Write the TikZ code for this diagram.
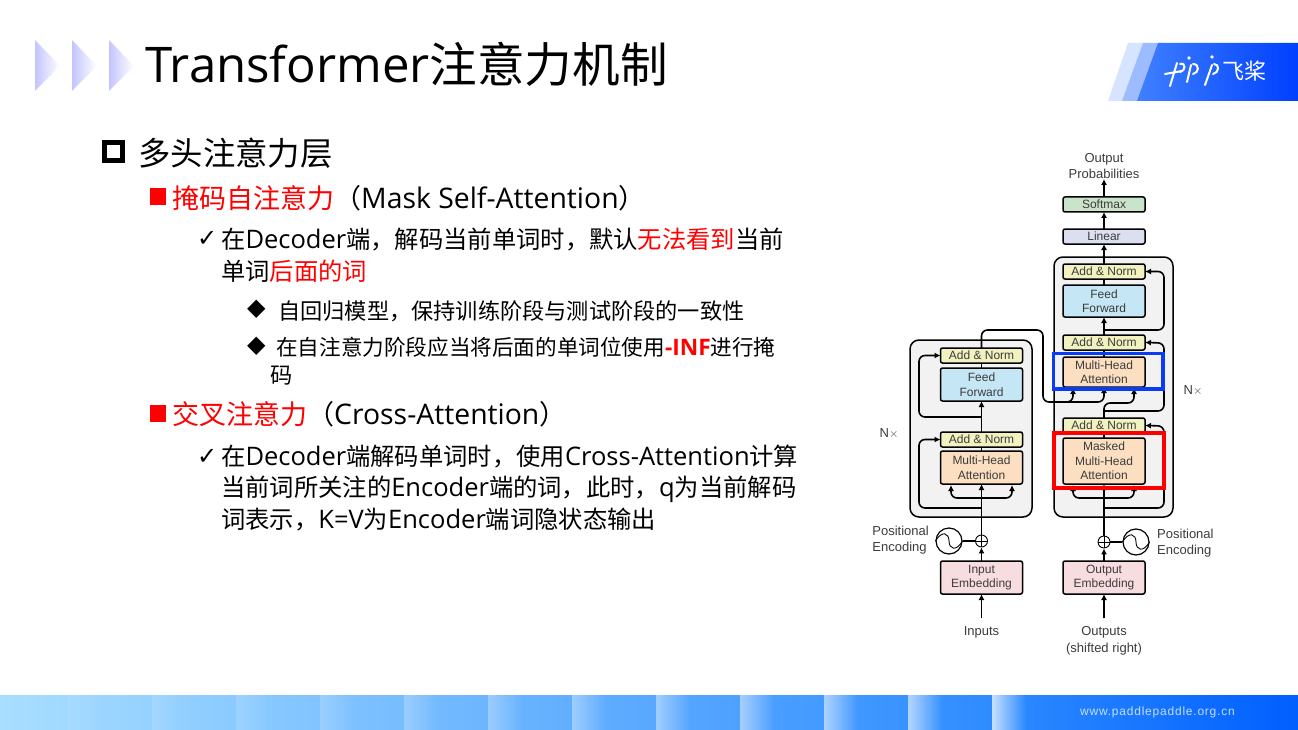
\documentclass[tikz,border=0pt]{standalone}
\usepackage{fontspec}
\usepackage{xcolor}
\setmainfont{Noto Sans CJK SC}
\newfontfamily\latfont[Scale=1.05]{Open Sans}
\newfontfamily\labelfont{Liberation Sans}
\newfontfamily\symbolfont{DejaVu Sans}
\newcommand{\lat}[1]{{\latfont #1}}
\usetikzlibrary{arrows.meta, positioning, fadings}

\definecolor{blockgray}{HTML}{F2F2F2}
\definecolor{softgreen}{HTML}{C9E4CA}
\definecolor{linearblue}{HTML}{DCDFF0}
\definecolor{normyellow}{HTML}{F1F2C0}
\definecolor{forwardblue}{HTML}{C4E6F5}
\definecolor{attnorange}{HTML}{FBDFC0}
\definecolor{embedpink}{HTML}{F8DDE0}
\definecolor{inkgray}{HTML}{3C3C3C}
\definecolor{markred}{HTML}{FF0000}
\definecolor{frameblue}{HTML}{0A3CF5}
\definecolor{arrowlilac}{HTML}{C4C4FF}
\definecolor{logopale}{HTML}{D6E4FF}
\definecolor{logomid}{HTML}{9DBCFF}
\definecolor{logostart}{HTML}{3F80FF}
\definecolor{logoend}{HTML}{0040FF}
\definecolor{footpale}{HTML}{A8DEFF}
\definecolor{footmid}{HTML}{2F8CFF}
\definecolor{footend}{HTML}{005FFF}

\tikzset{
    txt/.style={anchor=base west, inner sep=0pt},
    lone/.style={txt, font=\fontsize{32.4}{38}\selectfont},
    ltwo/.style={txt, font=\fontsize{27}{32}\selectfont},
    lthree/.style={txt, font=\fontsize{24.3}{30}\selectfont},
    lfour/.style={txt, font=\fontsize{22.2}{28}\selectfont},
    tag/.style={inner sep=0pt, align=center, text=inkgray, font=\labelfont\fontsize{13}{16.5}\selectfont},
    layer/.style={draw=black, line width=1.5pt, outer sep=0pt, rounded corners=2pt, minimum width=82pt, inner sep=0pt,
        align=center, text=inkgray, font=\labelfont\fontsize{12}{14.5}\selectfont},
    block/.style={draw=black, line width=1.5pt, rounded corners=9pt, fill=blockgray},
    wire/.style={line width=1.6pt, rounded corners=6pt},
    arrow/.style={wire, -{Latex[length=6pt,width=6pt]}},
    addcircle/.style={draw=black, circle, line width=.9pt, minimum size=12pt, inner sep=0pt, fill=white},
    sinecircle/.style={draw=black, circle, line width=1.2pt, minimum size=26pt, inner sep=0pt, fill=white},
}

\begin{document}
\begin{tikzpicture}[x=1pt,y=-1pt]
    \useasboundingbox (0,0) rectangle (1298,730);
    \fill[white] (0,0) rectangle (1298,730);

    % title
    \foreach \tx in {35,72,109}
        \shade[left color=arrowlilac, right color=white] (\tx,40) -- (\tx+25,66) -- (\tx,91) -- cycle;
    \node (title) [txt, font=\fontsize{47.6}{56}\selectfont] at (145,83) {{\latfont\fontsize{46.8}{56}\selectfont Transformer}注意力机制};

    % logo
    \fill[logopale] (1128,43) -- (1150,43) -- (1130,101) -- (1108,101) -- cycle;
    \fill[logomid] (1143,43) -- (1165,43) -- (1145,101) -- (1122,101) -- cycle;
    \shade[left color=logostart, right color=logoend] (1158,43) -- (1298,43) -- (1298,101) -- (1137,101) -- cycle;
    \draw[white, line width=2pt, line cap=round] (1165,74) -- (1182,71) (1170,86) -- (1177,63);
    \draw[white, line width=2pt, line cap=round] (1180,64) .. controls (1186,62) and (1186,71) .. (1180,72);
    \draw[white, line width=2pt, line cap=round] (1187,82) -- (1191,65) (1193,64) .. controls (1200,64) and (1199,73) .. (1193,74);
    \draw[white, line width=2pt, line cap=round] (1205,85) -- (1212,65) (1214,64) .. controls (1220,64) and (1219,73) .. (1213,74);
    \fill[white] (1189,58) circle (1.8) (1212,57) circle (1.8);
    \node (logo) [txt, text=white, font=\fontsize{22}{26}\selectfont] at (1222,80) {飞桨};

    % footer
    \shade[left color=footpale, right color=footmid] (0,695) rectangle (992,730);
    \shade[left color=footmid, right color=footend] (992,695) rectangle (1298,730);
    \foreach \fx/\fo in {68/.08,152/.12,236/.16,320/.2,404/.26,488/.32,572/.38,656/.44,740/.5,824/.56,908/.62,992/.72}
        \fill[white, fill opacity=\fo, path fading=east] (\fx,695) rectangle (\fx+34,730);
    \node (site) [txt, text=white, opacity=.75, font=\labelfont\fontsize{12}{14}\selectfont] at (1080,715) {\addfontfeature{LetterSpace=6.5}www.paddlepaddle.org.cn};

    % text
    \draw[line width=5pt] (104.5,143) rectangle (122.5,160.5);
    \node (one) [lone] at (138,166) {多头注意力层};
    \fill[markred] (150,188) rectangle (166,205);
    \node (two) [ltwo] at (172,209) {\textcolor{markred}{掩码自注意力}（\lat{Mask Self-Attention}）};
    \node (checka) [lthree] at (197,247) {\symbolfont\fontsize{24}{28}\selectfont ✓};
    \node (three) [lthree] at (221,248) {在\lat{Decoder}端，解码当前单词时，默认\textcolor{markred}{无法看到}当前};
    \node (threeb) [lthree] at (221,280) {单词\textcolor{markred}{后面的词}};
    \node (diaa) [lfour] at (247,315) {\symbolfont\fontsize{24}{28}\selectfont ◆};
    \node (four) [lfour] at (278,319) {自回归模型，保持训练阶段与测试阶段的一致性};
    \node (diab) [lfour] at (247,352) {\symbolfont\fontsize{24}{28}\selectfont ◆};
    \node (fourb) [lfour, font=\fontsize{21.6}{28}\selectfont] at (276,355) {在自注意力阶段应当将后面的单词位使用\textcolor{markred}{\bfseries\lat{-INF}}进行掩};
    \node (fourc) [lfour] at (270,383) {码};
    \fill[markred] (150,405) rectangle (166,422);
    \node (cross) [ltwo] at (172,424) {\textcolor{markred}{交叉注意力}（\lat{Cross-Attention}）};
    \node (checkb) [lthree] at (197,464) {\symbolfont\fontsize{24}{28}\selectfont ✓};
    \node (crossa) [lthree] at (221,465) {在\lat{Decoder}端解码单词时，使用\lat{Cross-Attention}计算};
    \node (crossb) [lthree] at (221,496) {当前词所关注的\lat{Encoder}端的词，此时，\lat{q}为当前解码};
    \node (crossc) [lthree] at (221,528) {词表示，\lat{K=V}为\lat{Encoder}端词隐状态输出};

    % blocks
    \draw[block] (910,340) rectangle (1032,517);
    \draw[block] (1054,257) rectangle (1173,517);

    % encoder
    \node (inemb) [layer, fill=embedpink, minimum height=33pt] at (981.5,577.5) {Input\\Embedding};
    \node (lmha) [layer, fill=attnorange, minimum height=33pt, above=77pt of inemb] {Multi-Head\\Attention};
    \node (lnorm) [layer, fill=normyellow, minimum height=15pt, above=4pt of lmha] {Add \& Norm};
    \node (lff) [layer, fill=forwardblue, minimum height=33pt, above=31pt of lnorm] {Feed\\Forward};
    \node (lnormb) [layer, fill=normyellow, minimum height=15pt, above=5pt of lff] {Add \& Norm};
    \node (inputs) [tag, below=32pt of inemb] {Inputs};
    \node (ladd) [addcircle] at (981.5,541) {};
    \node (lsine) [sinecircle] at (949,541) {};
    \node (lpos) [tag, anchor=east, align=left] at (929,540) {Positional\\Encoding};
    \node (lcount) [tag] at (889,434) {N$\times$};

    % decoder
    \node (outemb) [layer, fill=embedpink, minimum height=33pt] at (1104,577.5) {Output\\Embedding};
    \node (rmask) [layer, fill=attnorange, minimum height=46pt] at (1104,461) {Masked\\Multi-Head\\Attention};
    \node (rnormc) [layer, fill=normyellow, minimum height=15pt, above=5pt of rmask] {Add \& Norm};
    \node (rmha) [layer, fill=attnorange, minimum height=30pt, above=31pt of rnormc] {Multi-Head\\Attention};
    \node (rnormb) [layer, fill=normyellow, minimum height=15pt, above=7pt of rmha] {Add \& Norm};
    \node (rff) [layer, fill=forwardblue, minimum height=32pt, above=18pt of rnormb] {Feed\\Forward};
    \node (rnorm) [layer, fill=normyellow, minimum height=15pt, above=6pt of rff] {Add \& Norm};
    \node (linear) [layer, fill=linearblue, minimum height=15pt, above=20pt of rnorm] {Linear};
    \node (softmax) [layer, fill=softgreen, minimum height=15pt, above=17pt of linear] {Softmax};
    \node (outprob) [tag, above=18pt of softmax] {Output\\Probabilities};
    \node (outputs) [tag] at (1104,641) {Outputs\\(shifted right)};
    \node (radd) [addcircle] at (1104,542) {};
    \node (rsine) [sinecircle] at (1136,542) {};
    \node (rpos) [tag, anchor=west, align=left] at (1157,543) {Positional\\Encoding};
    \node (rcount) [tag] at (1193,391) {N$\times$};

    % free ends of the wires
    \coordinate (inputsTop) at (981.5,618);
    \coordinate (outputsTop) at (1104,618);
    \coordinate (lfork) at (981.5,498);
    \coordinate (lskip) at (981.5,508);
    \coordinate (lskipb) at (981.5,417);
    \coordinate (lmhaA) at (951,485);
    \coordinate (lmhaC) at (1012,485);
    \coordinate (rfork) at (1104,498);
    \coordinate (rskip) at (1104,508);
    \coordinate (rskipb) at (1104,411);
    \coordinate (rskipc) at (1104,330);
    \coordinate (rmaskA) at (1073,485);
    \coordinate (rmaskC) at (1134,485);
    \coordinate (rmhaA) at (1073,388);
    \coordinate (rmhaC) at (1134,388);

    % encoder wires
    \draw[arrow] (inputsTop) -- (inemb.south);
    \draw[arrow] (inemb.north) -- (ladd.south);
    \draw[arrow] (ladd.north) -- (lmha.south);
    \draw[wire] (lsine) -- (ladd);
    \draw[wire] (lmha.north) -- (lnorm.south);
    \draw[arrow] (lnorm.north) -- (lff.south);
    \draw[wire] (lff.north) -- (lnormb.south);
    \draw[arrow] (lfork) -| (lmhaA);
    \draw[arrow] (lfork) -| (lmhaC);
    \draw[arrow] (lskip) -- (919,508) -- (919,439.5) -- (lnorm.west);
    \draw[arrow] (lskipb) -- (919,417) -- (919,355.5) -- (lnormb.west);

    % decoder wires
    \draw[arrow] (outputsTop) -- (outemb.south);
    \draw[arrow] (outemb.north) -- (radd.south);
    \draw[arrow] (radd.north) -- (rmask.south);
    \draw[wire] (rsine) -- (radd);
    \draw[wire] (rmask.north) -- (rnormc.south);
    \draw[arrow] (rnormc.north) -- (1104,403) -- (1134,403) -- (rmhaC);
    \draw[wire] (rmha.north) -- (rnormb.south);
    \draw[arrow] (rnormb.north) -- (rff.south);
    \draw[wire] (rff.north) -- (rnorm.south);
    \draw[arrow] (rnorm.north) -- (linear.south);
    \draw[arrow] (linear.north) -- (softmax.south);
    \draw[arrow] (softmax.north) -- (outprob.south);
    \draw[arrow] (rfork) -| (rmaskA);
    \draw[arrow] (rfork) -| (rmaskC);
    \draw[arrow] (rskip) -- (1164,508) -- (1164,426) -- (rnormc.east);
    \draw[arrow] (rskipb) -- (1164,411) -- (1164,343) -- (rnormb.east);
    \draw[arrow] (rskipc) -- (1164,330) -- (1164,271.5) -- (rnorm.east);

    % encoder output into the decoder
    \draw[wire] (lnormb.north) -- (981.5,330) -- (1043,330) -- (1043,402) -- (1098,402);
    \draw[arrow] (1062,402) -- (1073,402) -- (rmhaA);
    \draw[arrow] (1090,402) -- (1104,402) -- (rmha.south);

    % sine marks and plus marks
    \draw[line width=.8pt] (ladd.north) -- (ladd.south) (ladd.west) -- (ladd.east);
    \draw[line width=.8pt] (radd.north) -- (radd.south) (radd.west) -- (radd.east);
    \draw[line width=.9pt] (lsine.west) .. controls (942,530) and (949,533) .. (lsine.center) .. controls (949,549) and (956,552) .. (lsine.east);
    \draw[line width=.9pt] (rsine.west) .. controls (1129,531) and (1136,534) .. (rsine.center) .. controls (1136,550) and (1143,553) .. (rsine.east);

    % highlight frames
    \draw[frameblue, line width=3.5pt] (1053.5,353.5) rectangle (1163,389);
    \draw[markred, line width=4pt] (1053.5,432.5) rectangle (1163.5,487.5);
\end{tikzpicture}
\end{document}
